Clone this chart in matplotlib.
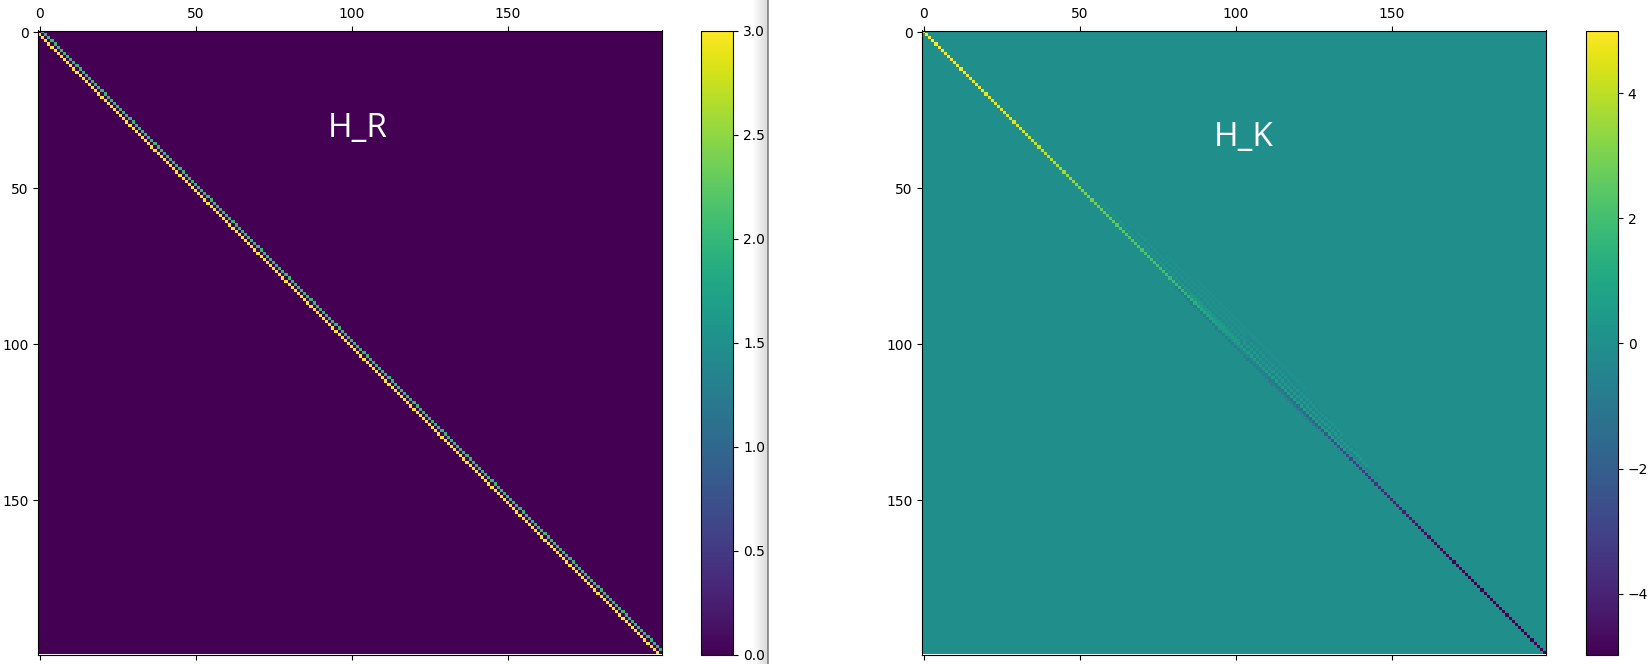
import numpy as np
import matplotlib
matplotlib.use("Agg")
import matplotlib.pyplot as plt

W, H = 1649, 664
n = 200

# H_R : zero diagonal, two constant bands either side
r_super = [2.0] * (n - 1)
r_sub = [3.0] * (n - 1)

# H_K : main diagonal
k_diag = [
    5.0, 5.0, 5.0, 5.0, 5.0, 5.0, 5.0, 4.98, 4.98, 4.96, 4.96, 4.94, 4.92, 4.9, 4.88, 4.86, 4.84, 4.82, 4.8, 4.78,
    4.76, 4.74, 4.72, 4.7, 4.68, 4.66, 4.64, 4.62, 4.6, 4.58, 4.54, 4.5, 4.45, 4.4, 4.35, 4.3, 4.25, 4.2, 4.14, 4.08,
    4.0, 3.92, 3.84, 3.76, 3.68, 3.6, 3.5, 3.42, 3.32, 3.24, 3.16, 3.08, 3.0, 2.94, 2.88, 2.82, 2.76, 2.7, 2.66, 2.62,
    2.58, 2.54, 2.5, 2.46, 2.42, 2.38, 2.34, 2.3, 2.26, 2.23, 2.2, 2.17, 2.14, 2.11, 2.08, 2.05, 2.02, 1.98, 1.95, 1.9,
    1.85, 1.8, 1.74, 1.68, 1.6, 1.52, 1.44, 1.36, 1.28, 1.18, 1.08, 0.98, 0.88, 0.78, 0.68, 0.58, 0.48, 0.38, 0.3, 0.2,
    0.12, 0.02, -0.06, -0.16, -0.24, -0.32, -0.4, -0.48, -0.56, -0.64, -0.72, -0.8, -0.86, -0.94, -1.0, -1.08, -1.14, -1.22, -1.28, -1.36,
    -1.42, -1.48, -1.54, -1.6, -1.66, -1.74, -1.84, -1.94, -2.02, -2.12, -2.2, -2.3, -2.38, -2.48, -2.56, -2.66, -2.74, -2.84, -2.92, -3.0,
    -3.06, -3.14, -3.22, -3.3, -3.38, -3.46, -3.54, -3.62, -3.7, -3.78, -3.86, -3.94, -4.0, -4.08, -4.14, -4.2, -4.26, -4.32, -4.38, -4.44,
    -4.48, -4.52, -4.56, -4.6, -4.64, -4.68, -4.72, -4.76, -4.8, -4.84, -4.9, -4.9, -4.92, -4.92, -4.94, -4.94, -4.95, -4.95, -4.95, -4.96,
    -4.96, -4.96, -4.96, -4.96, -4.96, -4.96, -4.96, -4.96, -4.96, -4.97, -4.97, -4.97, -4.97, -4.97, -4.97, -4.97, -4.97, -4.97, -4.97, -4.97,
]

# faint stripes around the H_K diagonal
band_offset = [-1, 1, 1, 2, 2, 3, 3, 4, 4, 5, 5, 6, 6, 7, 8]
band_first = [82, 50, 85, 55, 100, 60, 100, 65, 100, 68, 100, 72, 98, 76, 80]
band_last = [128, 85, 135, 100, 145, 100, 140, 100, 135, 100, 130, 98, 125, 120, 115]
band_value = [-0.8, -0.25, 0.7, 0.3, -0.4, -0.2, 0.4, 0.2, -0.3, -0.15, 0.3, 0.12, -0.2, -0.1, 0.08]

# window edge between the two screenshots
edge_shade = [1.0, 0.99, 0.98, 0.97, 0.96, 0.95, 0.94, 0.93, 0.92, 0.91, 0.9, 0.89, 0.88, 0.87, 0.86, 0.55, 0.6]

r_ticks = [0.0, 0.5, 1.0, 1.5, 2.0, 2.5, 3.0]
k_ticks = [-4, -2, 0, 2, 4]
axis_ticks = [0, 50, 100, 150]

H_R = np.diag(r_super, 1) + np.diag(r_sub, -1)
H_K = np.diag(k_diag)
for off, a, b, v in zip(band_offset, band_first, band_last, band_value):
    for i in range(a, b):
        H_K[i, i + off] = v


def box(x0, y0, x1, y1):
    # pixel box, y from the top, to figure fractions
    return [x0 / W, 1 - y1 / H, (x1 - x0) / W, (y1 - y0) / H]


fig = plt.figure(figsize=(W / 100, H / 100), dpi=100)

sep = fig.add_axes(box(752, 0, 769, H))
sep.imshow([edge_shade], cmap="gray", vmin=0, vmax=1, aspect="auto", interpolation="nearest")
sep.axis("off")

top, bottom = 30.5, 654.5

ax1 = fig.add_axes(box(38.3, top, 662.3, bottom))
im1 = ax1.matshow(H_R, cmap="viridis", vmin=0, vmax=3, interpolation="nearest", aspect="auto")
cax1 = fig.add_axes(box(701.5, top, 733.3, bottom))
fig.colorbar(im1, cax=cax1, ticks=r_ticks)
ax1.text(357.6 / W, 1 - 128 / H, "H_R", color="white", fontsize=24, family="Open Sans",
         ha="center", va="center", transform=fig.transFigure)

ax2 = fig.add_axes(box(922.3, top, 1546.3, bottom))
im2 = ax2.matshow(H_K, cmap="viridis", vmin=-4.97, vmax=5, interpolation="nearest", aspect="auto")
cax2 = fig.add_axes(box(1586.5, top, 1618, bottom))
fig.colorbar(im2, cax=cax2, ticks=k_ticks)
ax2.text(1244 / W, 1 - 137.5 / H, "H_K", color="white", fontsize=24, family="Open Sans",
         ha="center", va="center", transform=fig.transFigure)

for ax in (ax1, ax2):
    ax.set_xticks(axis_ticks)
    ax.set_yticks(axis_ticks)

fig.savefig("out.png", dpi=100)
